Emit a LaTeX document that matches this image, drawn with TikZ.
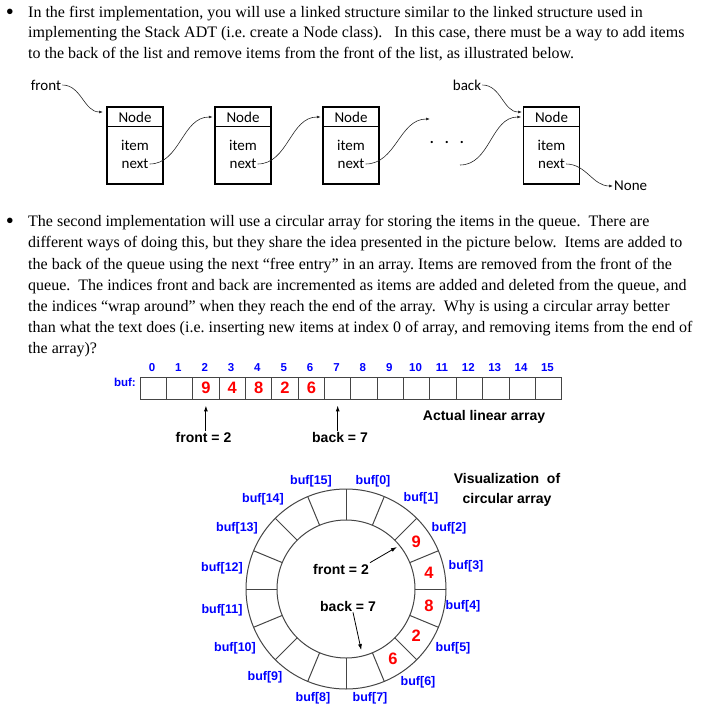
\documentclass[tikz,border=0pt]{standalone}
\usepackage{fontspec}
\setmainfont{Liberation Serif}
\newfontfamily\calibrifont{Carlito}
\newfontfamily\arialfont{Liberation Sans}
\usetikzlibrary{arrows.meta,positioning}
\definecolor{bufblue}{HTML}{0000FF}
\definecolor{bufred}{HTML}{FF0000}
\definecolor{ringgray}{HTML}{454545}
\newcommand{\ringout}{(0,0) circle (100)}
\newcommand{\ringin}{(0,0) circle (69)}
\frenchspacing

\begin{document}
\begin{tikzpicture}[x=1pt, y=-1pt,
  para/.style={anchor=base west, inner sep=0pt, font=\fontsize{16}{19}\selectfont},
  bulletmark/.style={anchor=base, inner sep=0pt, font=\fontsize{23}{25}\selectfont},
  listbox/.style={draw, line width=1.5pt, minimum width=56pt, minimum height=77pt, inner sep=0pt},
  listtxt/.style={font=\calibrifont\fontsize{15}{18}\selectfont, inner sep=1pt},
  link/.style={-{Latex[length=4pt,width=3pt]}, line width=0.6pt, black!85},
  cell/.style={draw=ringgray, line width=1pt, minimum width=26.36pt, minimum height=22.6pt, inner sep=0pt},
  idx/.style={text=bufblue, font=\arialfont\bfseries\fontsize{11.5}{13}\selectfont, inner sep=1pt},
  ringidx/.style={idx, font=\arialfont\bfseries\fontsize{12.5}{14}\selectfont},
  val/.style={text=bufred, font=\arialfont\bfseries\fontsize{16.5}{18}\selectfont, inner sep=0pt},
  lbl/.style={font=\arialfont\bfseries\fontsize{14}{20}\selectfont, inner sep=1pt},
  ptr/.style={-{Latex[length=6pt,width=4pt]}, line width=1pt},
  ringline/.style={draw=ringgray, line width=1pt}]

  \useasboundingbox (0,0) rectangle (714,725);

  % first paragraph
  \node[bulletmark] (b1) at (10,20) {\textbullet};
  \node[para] (p1a) at (28,17.3) {In the first implementation, you will use a linked structure similar to the linked structure used in};
  \node[para] (p1b) at (28,37.9) {implementing the Stack ADT (i.e. create a Node class).\ \ \ In this case, there must be a way to add items};
  \node[para] (p1c) at (28,58.5) {to the back of the list and remove items from the front of the list, as illustrated below.};

  % linked list
  \foreach \n/\x in {1/135,2/243,3/351,4/551.5} {
    \node[listbox] (n\n) at (\x,145.5) {};
    \draw[line width=1.2pt] ([yshift=-20pt]n\n.north west) -- ([yshift=-20pt]n\n.north east);
    \node[listtxt] (h\n) at (\x,117) {Node};
    \node[listtxt] (it\n) at (\x,145) {item};
    \node[listtxt] (nx\n) at (\x,164) {next};
  }
  \node[listtxt] (front) at (46,85) {front};
  \node[listtxt] (back) at (467,85) {back};
  \node[listtxt, anchor=west] (none) at (613,186) {None};
  \node[listtxt] (dots) at (447,142) {\textbf{.}\hspace{11pt}\textbf{.}\hspace{11pt}\textbf{.}};
  \coordinate (fronthit) at (103,112);
  \coordinate (backhit) at (522,112);
  \coordinate (dotsin) at (430,119);
  \coordinate (dotsout) at (460,165);

  \draw[link] (front.east) to[out=0,in=180] (fronthit);
  \draw[link] (back.east) to[out=0,in=180] (backhit);
  \draw[link] (nx1.east) to[out=0,in=180] ([xshift=-1.5pt]n2.west |- h2);
  \draw[link] (nx2.east) to[out=0,in=180] ([xshift=-1.5pt]n3.west |- h3);
  \draw[link] (nx3.east) to[out=0,in=180] (dotsin);
  \draw[link] (dotsout) to[out=0,in=180] ([xshift=-1.5pt]n4.west |- h4);
  \draw[link] (nx4.east) to[out=0,in=180] (none.west);

  % second paragraph
  \node[bulletmark] (b2) at (10,228) {\textbullet};
  \node[para] (p2a) at (28,226.7) {The second implementation will use a circular array for storing the items in the queue.\ \ There are};
  \node[para] (p2b) at (28,247.9) {different ways of doing this, but they share the idea presented in the picture below.\ \ Items are added to};
  \node[para] (p2c) at (28,269.1) {the back of the queue using the next “free entry” in an array. Items are removed from the front of the};
  \node[para] (p2d) at (28,290.3) {queue.\ \ The indices front and back are incremented as items are added and deleted from the queue, and};
  \node[para] (p2e) at (28,311.5) {the indices “wrap around” when they reach the end of the array.\ \ Why is using a circular array better};
  \node[para] (p2f) at (28,332.7) {than what the text does (i.e. inserting new items at index 0 of array, and removing items from the end of};
  \node[para] (p2g) at (28,353.9) {the array)?};

  % linear array
  \node[idx, anchor=east] (buflbl) at (137,382) {buf:};
  \foreach \i in {0,...,15} {
    \node[cell] (c\i) at ({153.18+26.36*\i},388.6) {};
    \node[idx, anchor=base] (i\i) at ({152+26.36*\i},371.2) {\i};
  }
  \foreach \i/\v in {2/9,3/4,4/8,5/2,6/6}
    \node[val] (v\i) at ([yshift=1pt]c\i) {\v};
  \node[lbl] (afront) at (203.5,437) {front = 2};
  \node[lbl] (aback) at (340,437) {back = 7};
  \node[lbl] (alinear) at (484,417) {Actual linear array};
  \draw[ptr] (afront.north -| c2) -- ([yshift=-5pt]c2.south);
  \draw[ptr] (aback.north -| c7) -- ([yshift=-5pt]c7.south);

  % circular array
  \begin{scope}[shift={(346,589)}, y=1pt]
    \draw[ringline] \ringout;
    \draw[ringline] \ringin;
    \foreach \k in {0,...,15}
      \draw[ringline] ({90-22.5*\k}:69) -- ({90-22.5*\k}:100);
    \foreach \k/\v in {2/9,3/4,4/8,5/2,6/6}
      \node[val] (r\k) at ({78.75-22.5*\k}:84.5) {\v};
    \coordinate (fronttip) at (39.5:66);
    \coordinate (backtip) at (-76:63);
  \end{scope}
  \foreach \k/\x/\y in {0/373/481,1/421/498,2/449/528,3/466/566,4/463/606,5/453/648,6/418/682,7/370/698,
                        8/313/698,9/265/677,10/235/648,11/222/610,12/222/568,13/237/528,14/263/499,15/311/481}
    \node[ringidx] (q\k) at (\x,\y) {buf[\k]};
  \node[lbl] (cfront) at (341,569) {front = 2};
  \node[lbl] (cback) at (348,606) {back = 7};
  \node[lbl, align=center] (vis) at (507,490) {Visualization\ \ of\\circular array};
  \draw[ptr, line width=0.8pt] (cfront.north east) -- (fronttip);
  \draw[ptr, line width=0.8pt] ([xshift=5pt]cback.south) -- (backtip);

\end{tikzpicture}
\end{document}
